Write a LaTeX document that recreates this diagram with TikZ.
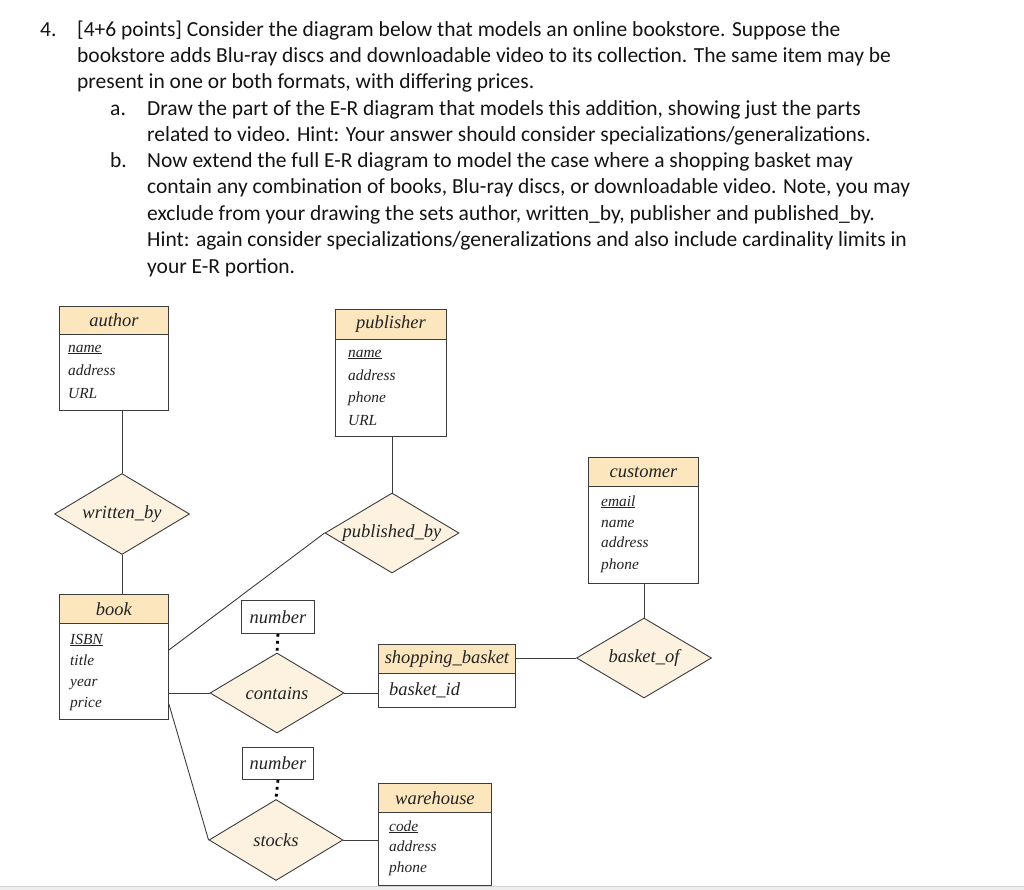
\documentclass[tikz,border=0pt]{standalone}
\usepackage{fontspec}
\setmainfont{Carlito}
\newfontfamily\erf{Liberation Serif}
\usetikzlibrary{shapes.geometric}
\definecolor{hdrc}{RGB}{252,230,190}
\definecolor{relc}{RGB}{253,241,224}
\definecolor{lc}{RGB}{60,60,60}
\definecolor{tc}{RGB}{35,35,35}
\definecolor{qc}{RGB}{20,20,20}
\begin{document}
\begin{tikzpicture}[x=1pt,y=-1pt,
 qline/.style={anchor=base west, inner sep=0, font=\fontsize{21.5}{26}\selectfont, text=qc},
 hbox/.style={draw=lc, line width=0.9pt, fill=hdrc, inner sep=0, anchor=north west},
 bbox/.style={draw=lc, line width=0.9pt, fill=white, inner sep=0, anchor=north west},
 nbox/.style={draw=lc, line width=0.9pt, fill=white, inner sep=0, anchor=north west, font=\erf\itshape\fontsize{18.5}{20}\selectfont, text=tc},
 htxt/.style={font=\erf\itshape\fontsize{18.5}{20}\selectfont, text=tc, inner sep=0},
 attr/.style={font=\erf\itshape\fontsize{15.4}{18}\selectfont, text=tc, inner sep=0, anchor=base west},
 rel/.style={diamond, draw=lc, line width=0.9pt, fill=relc, inner sep=0, minimum width=135pt, minimum height=81pt, shape aspect=1.667, font=\erf\itshape\fontsize{18.5}{20}\selectfont, text=tc},
 conn/.style={draw=lc, line width=0.9pt},
 dots/.style={draw=black, line width=2.8pt, dash pattern=on 2.8pt off 4.2pt}]
\useasboundingbox (0,0) rectangle (1024,890);
\fill[white] (0,0) rectangle (1024,890);

% question text
\node[qline] (n4) at (40,37) {4.};
\node[qline] (l1) at (77,37) {[4+6 points] Consider the diagram below that models an online bookstore. Suppose the};
\node[qline] (l2) at (77,63) {bookstore adds Blu-ray discs and downloadable video to its collection. The same item may be};
\node[qline] (l3) at (77,89) {present in one or both formats, with differing prices.};
\node[qline] (na) at (110,116) {a.};
\node[qline] (l4) at (147,116) {Draw the part of the E-R diagram that models this addition, showing just the parts};
\node[qline] (l5) at (147,142) {related to video. Hint: Your answer should consider specializations/generalizations.};
\node[qline] (nb) at (110,168) {b.};
\node[qline] (l6) at (147,168) {Now extend the full E-R diagram to model the case where a shopping basket may};
\node[qline] (l7) at (147,194) {contain any combination of books, Blu-ray discs, or downloadable video. Note, you may};
\node[qline] (l8) at (147,221) {exclude from your drawing the sets author, written\_by, publisher and published\_by.};
\node[qline] (l9) at (147,247) {Hint: again consider specializations/generalizations and also include cardinality limits in};
\node[qline] (l10) at (147,273) {your E-R portion.};

% author
\node[hbox, minimum width=109pt, minimum height=28pt] (authorH) at (59,306) {};
\node[bbox, minimum width=109pt, minimum height=76pt] (authorB) at (59,334) {};
\node[htxt] (authorT) at (authorH.center) {author};
\node[attr] (a1) at (68,352) {\underline{name}};
\node[attr] (a2) at (68,375) {address};
\node[attr] (a3) at (68,398) {URL};

% publisher
\node[hbox, minimum width=111pt, minimum height=30pt] (pubH) at (335,309) {};
\node[bbox, minimum width=111pt, minimum height=97pt] (pubB) at (335,339) {};
\node[htxt] (pubT) at (pubH.center) {publisher};
\node[attr] (p1) at (348,357) {\underline{name}};
\node[attr] (p2) at (348,380) {address};
\node[attr] (p3) at (348,402) {phone};
\node[attr] (p4) at (348,425) {URL};

% customer
\node[hbox, minimum width=110pt, minimum height=29pt] (custH) at (588,457) {};
\node[bbox, minimum width=110pt, minimum height=97pt] (custB) at (588,486) {};
\node[htxt] (custT) at (custH.center) {customer};
\node[attr] (c1) at (601,506) {\underline{email}};
\node[attr] (c2) at (601,527) {name};
\node[attr] (c3) at (601,547) {address};
\node[attr] (c4) at (601,569) {phone};

% book
\node[hbox, minimum width=109pt, minimum height=29pt] (bookH) at (59,594) {};
\node[bbox, minimum width=109pt, minimum height=96pt] (bookB) at (59,623) {};
\node[htxt] (bookT) at (bookH.center) {book};
\node[attr] (b1) at (70,644) {\underline{ISBN}};
\node[attr] (b2) at (70,665) {title};
\node[attr] (b3) at (70,686) {year};
\node[attr] (b4) at (70,707) {price};

% shopping basket
\node[hbox, minimum width=137pt, minimum height=29pt] (sbH) at (378,644) {};
\node[bbox, minimum width=137pt, minimum height=34pt] (sbB) at (378,673) {};
\node[htxt] (sbT) at (sbH.center) {shopping\_basket};
\node[htxt, anchor=base west] (sb1) at (389,695) {basket\_id};

% warehouse
\node[hbox, minimum width=113pt, minimum height=29pt] (whH) at (378,783) {};
\node[bbox, minimum width=113pt, minimum height=73pt] (whB) at (378,812) {};
\node[htxt] (whT) at (whH.center) {warehouse};
\node[attr] (w1) at (389,831) {\underline{code}};
\node[attr] (w2) at (389,851) {address};
\node[attr] (w3) at (389,872) {phone};

% number boxes
\node[nbox, minimum width=73pt, minimum height=33pt] (num1) at (241,600) {number};
\node[nbox, minimum width=71pt, minimum height=32pt] (num2) at (242,747) {number};

% relationships
\node[rel] (wb) at (122,514) {written\_by};
\node[rel, minimum width=134pt, minimum height=80pt] (pb) at (392,533) {published\_by};
\node[rel, minimum width=134pt, minimum height=80pt] (cont) at (277,693) {contains};
\node[rel, minimum height=80pt] (bof) at (644,658) {basket\_of};
\node[rel, minimum width=134pt] (stk) at (276,840) {stocks};

% helper coordinates
\coordinate (yPB) at (0,650);
\coordinate (yST) at (0,704);

% connectors
\draw[conn] (wb.north |- authorB.south) -- (wb.north);
\draw[conn] (wb.south) -- (wb.south |- bookH.north);
\draw[conn] (pb.north |- pubB.south) -- (pb.north);
\draw[conn] (bof.north |- custB.south) -- (bof.north);
\draw[conn] (pb.west) -- (bookB.east |- yPB);
\draw[conn] (cont.west) -- (bookB.east |- cont.west);
\draw[conn] (cont.east) -- (sbB.west |- cont.east);
\draw[conn] (bof.west -| sbH.east) -- (bof.west);
\draw[conn] (bookB.east |- yST) -- (stk.west);
\draw[conn] (stk.east) -- (whB.west |- stk.east);
\draw[dots] (num1.south) -- (cont.north);
\draw[dots] (num2.south) -- (stk.north);

% bottom band
\fill[gray!13] (0,886) rectangle (1024,890);
\draw[gray!35, line width=0.8pt] (0,886.4) -- (1024,886.4);
\end{tikzpicture}
\end{document}
